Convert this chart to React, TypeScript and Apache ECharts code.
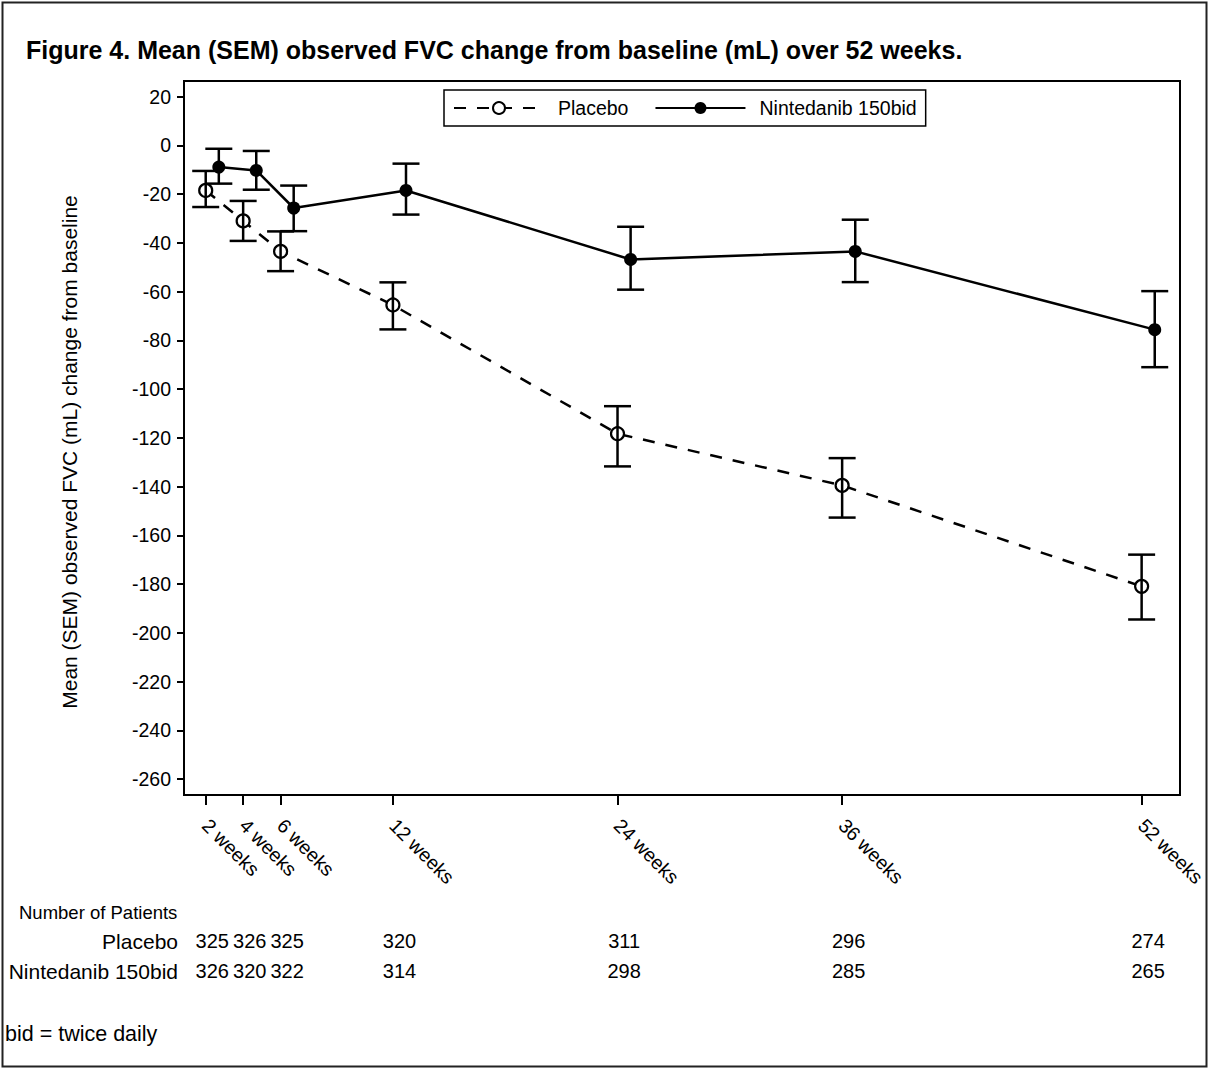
import React, { useEffect, useRef } from "react";
import * as echarts from "echarts";

const weeks = [2, 4, 6, 12, 24, 36, 52];
const weekLabels = ["2 weeks", "4 weeks", "6 weeks", "12 weeks", "24 weeks", "36 weeks", "52 weeks"];
const yTicks = [20, 0, -20, -40, -60, -80, -100, -120, -140, -160, -180, -200, -220, -240, -260];

const placeboMean = [-18.5, -31, -43.5, -65.5, -118.3, -139.5, -180.9];
const placeboLow = [-25.3, -39.2, -51.6, -75.5, -131.7, -152.7, -194.5];
const placeboHigh = [-10.5, -22.8, -35.3, -56.2, -107, -128.3, -167.9];

const ninMean = [-8.9, -10.3, -25.7, -18.5, -46.8, -43.5, -75.6];
const ninLow = [-15.7, -18.2, -35.2, -28.4, -59.2, -56.1, -91];
const ninHigh = [-1.4, -2.3, -16.5, -7.5, -33.4, -30.5, -59.8];

// horizontal shift (weeks) of the Nintedanib group so bars don't overlap
const ninShift = 0.7;

const placeboN = [325, 326, 325, 320, 311, 296, 274];
const ninN = [326, 320, 322, 314, 298, 285, 265];

const FONT = "'Liberation Sans', Arial, Helvetica, sans-serif";

export default function App() {
  const ref = useRef<HTMLDivElement>(null);
  useEffect(() => {
    if (!ref.current) return;
    const chart = echarts.init(ref.current, null, { renderer: "svg" });

    const errRender = (params: any, api: any) => {
      const x = api.value(0);
      const lo = api.value(1);
      const hi = api.value(2);
      const p1 = api.coord([x, hi]);
      const p2 = api.coord([x, lo]);
      const hw = 13.5;
      const st = { stroke: "#000", lineWidth: 2.5 };
      return {
        type: "group",
        children: [
          { type: "line", shape: { x1: p1[0], y1: p1[1], x2: p2[0], y2: p2[1] }, style: st },
          { type: "line", shape: { x1: p1[0] - hw, y1: p1[1], x2: p1[0] + hw, y2: p1[1] }, style: st },
          { type: "line", shape: { x1: p2[0] - hw, y1: p2[1], x2: p2[0] + hw, y2: p2[1] }, style: st },
        ],
      };
    };

    const xMin = 0.84;
    const xMax = 54.05;

    // patient counts sit at the centre of each visit's pair of markers
    const countPos = weeks.map((w) => w + ninShift / 2);
    const countIndex = (v: number) => {
      let best = 0;
      countPos.forEach((p, i) => {
        if (Math.abs(p - v) < Math.abs(countPos[best] - v)) best = i;
      });
      return best;
    };

    const countAxis = (name: string, counts: number[], offset: number) => ({
      type: "value",
      min: xMin,
      max: xMax,
      position: "bottom",
      offset,
      name,
      nameLocation: "start",
      nameGap: 6,
      nameTextStyle: { fontSize: 21, color: "#000", fontFamily: FONT },
      axisLine: { show: false, onZero: false },
      axisTick: { show: false },
      splitLine: { show: false },
      axisLabel: {
        customValues: countPos,
        margin: 0,
        verticalAlign: "middle",
        fontSize: 20,
        color: "#000",
        fontFamily: FONT,
        formatter: (v: number) => String(counts[countIndex(v)]),
      },
    });

    chart.setOption({
      animation: false,
      backgroundColor: "#fff",
      textStyle: { fontFamily: FONT, color: "#000" },
      title: {
        text: "Figure 4. Mean (SEM) observed FVC change from baseline (mL) over 52 weeks.",
        left: 26,
        top: 37,
        padding: 0,
        textStyle: { fontSize: 25, fontWeight: "bold", color: "#000", fontFamily: FONT },
      },
      legend: {
        data: ["Placebo", "Nintedanib 150bid"],
        left: 444,
        top: 90,
        padding: [8, 9, 8, 9],
        borderColor: "#000",
        borderWidth: 1.5,
        backgroundColor: "#fff",
        itemGap: 26,
        itemWidth: 90,
        itemHeight: 15,
        textStyle: { fontSize: 19.5, color: "#000", fontFamily: FONT, padding: [0, 0, 0, 9] },
      },
      grid: {
        left: 184,
        right: 28,
        top: 81,
        bottom: 274,
        show: true,
        borderColor: "#000",
        borderWidth: 2,
        backgroundColor: "transparent",
        containLabel: false,
        outerBoundsMode: "none",
      },
      xAxis: [
        {
          type: "value",
          min: xMin,
          max: xMax,
          axisLine: { show: true, onZero: false, lineStyle: { color: "#000", width: 2 } },
          axisTick: { show: true, length: 10, customValues: weeks, lineStyle: { color: "#000", width: 2 } },
          splitLine: { show: false },
          axisLabel: {
            customValues: weeks,
            rotate: -45,
            margin: 27,
            fontSize: 19.5,
            color: "#000",
            fontFamily: FONT,
            formatter: (v: number) => {
              const i = weeks.indexOf(v);
              return i >= 0 ? weekLabels[i] : "";
            },
          },
        },
        countAxis("Placebo", placeboN, 146),
        countAxis("Nintedanib 150bid", ninN, 176),
      ],
      yAxis: {
        type: "value",
        min: -266.5,
        max: 26.4,
        name: "Mean (SEM) observed FVC (mL) change from baseline",
        nameLocation: "middle",
        nameRotate: 90,
        nameGap: 104,
        nameTextStyle: { fontSize: 21, color: "#000", fontFamily: FONT, padding: [0, 28, 0, 0] },
        axisLine: { show: true, onZero: false, lineStyle: { color: "#000", width: 2 } },
        axisTick: { show: true, length: 7, customValues: yTicks, lineStyle: { color: "#000", width: 2 } },
        splitLine: { show: false },
        axisLabel: {
          customValues: yTicks,
          margin: 13,
          fontSize: 19.5,
          color: "#000",
          fontFamily: FONT,
        },
      },
      graphic: [
        {
          type: "rect",
          shape: { x: 2.5, y: 2.5, width: 1204, height: 1064 },
          style: { fill: "none", stroke: "#222", lineWidth: 2 },
          z: 100,
        },
        {
          type: "text",
          left: 19,
          top: 903,
          style: { text: "Number of Patients", fontSize: 18.5, fill: "#000", fontFamily: FONT },
        },
        {
          type: "text",
          left: 5,
          top: 1023,
          style: { text: "bid = twice daily", fontSize: 21.5, fill: "#000", fontFamily: FONT },
        },
      ],
      series: [
        {
          name: "Placebo",
          type: "line",
          data: weeks.map((w, i) => [w, placeboMean[i]]),
          symbol: "circle",
          symbolSize: 13,
          lineStyle: { color: "#000", width: 2.5, type: [12, 11] },
          itemStyle: { color: "#fff", borderColor: "#000", borderWidth: 2.2 },
          z: 3,
        },
        {
          name: "Nintedanib 150bid",
          type: "line",
          data: weeks.map((w, i) => [w + ninShift, ninMean[i]]),
          symbol: "circle",
          symbolSize: 13,
          lineStyle: { color: "#000", width: 2.5, type: "solid" },
          itemStyle: { color: "#000", borderColor: "#000", borderWidth: 0 },
          z: 3,
        },
        {
          type: "custom",
          renderItem: errRender,
          data: weeks.map((w, i) => [w, placeboLow[i], placeboHigh[i]]),
          encode: { x: 0, y: [1, 2] },
          z: 4,
          silent: true,
        },
        {
          type: "custom",
          renderItem: errRender,
          data: weeks.map((w, i) => [w + ninShift, ninLow[i], ninHigh[i]]),
          encode: { x: 0, y: [1, 2] },
          z: 4,
          silent: true,
        },
      ],
    });

    return () => chart.dispose();
  }, []);

  return (
    <div
      ref={ref}
      style={{ position: "fixed", left: 0, top: 0, width: 1208, height: 1069, background: "#fff" }}
    />
  );
}
